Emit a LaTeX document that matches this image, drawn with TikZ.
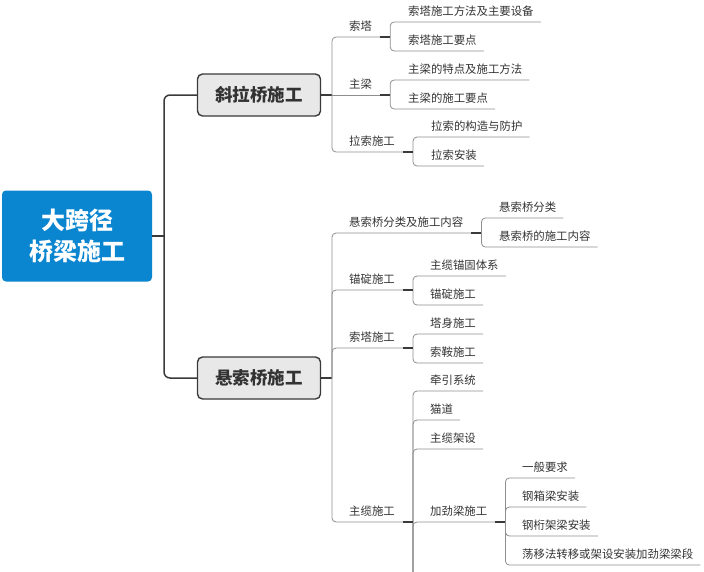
\documentclass[tikz,border=0pt]{standalone}
\usepackage{fontspec}
\newfontfamily\cjk{Noto Sans CJK SC}
\definecolor{rootblue}{HTML}{0A85D0}
\definecolor{boxgray}{HTML}{E8E8E8}
\definecolor{darkline}{HTML}{3A3A3A}
\definecolor{greyline}{HTML}{8E8E8E}
\definecolor{labtext}{HTML}{333333}

\begin{document}
\begin{tikzpicture}[x=1pt, y=-1pt,
  root/.style={fill=rootblue, rounded corners=4pt, text=white, align=center,
               font=\cjk\bfseries\fontsize{24}{31}\selectfont,
               minimum width=150pt, minimum height=91pt, inner sep=0pt},
  topic/.style={draw=darkline, line width=1.4pt, fill=boxgray, rounded corners=5pt,
                font=\cjk\bfseries\fontsize{17.5}{20}\selectfont, text=labtext,
                minimum width=123pt, minimum height=42pt, inner sep=0pt},
  lab/.style={anchor=south west, inner sep=0pt, text depth=6.3pt, text=labtext,
              font=\cjk\fontsize{11.4}{14}\selectfont,
              execute at begin node=\hspace*{17pt}, execute at end node=\hspace*{#1}},
  lab/.default=18pt,
  leaf/.style={lab=7pt},
  trunk/.style={draw=darkline, line width=1.5pt, rounded corners=6pt},
  link/.style={draw=greyline, line width=0.8pt, rounded corners=4pt},
  stub/.style={draw=darkline, line width=1.2pt}
]
\useasboundingbox (0,0) rectangle (704,571);

% root and the two topics
\node[root] (root) at (77,236) {大跨径\\桥梁施工};
\node[topic] (cable) at (259,95) {斜拉桥施工};
\node[topic] (susp) at (259,378) {悬索桥施工};
\coordinate (fork) at (164,236);
\draw[trunk] (root.east) -- (fork);
\draw[trunk] (cable.west) -| (fork);
\draw[trunk] (susp.west) -| (fork);

% cable-stayed bridge
\node[lab] (tower) at (332,37) {索塔};
\node[lab] (girder) at (332,95) {主梁};
\node[lab] (stay) at (332,152) {拉索施工};
\node[leaf] (tower1) at (391,22) {索塔施工方法及主要设备};
\node[leaf] (tower2) at (391,51) {索塔施工要点};
\node[leaf] (girder1) at (391,80) {主梁的特点及施工方法};
\node[leaf] (girder2) at (391,109) {主梁的施工要点};
\node[leaf] (stay1) at (414,137) {拉索的构造与防护};
\node[leaf] (stay2) at (414,166) {拉索安装};
\coordinate (cj) at (332,95);
\draw[trunk] (cable.east) -- (cj);
\draw[link] (cj) |- (tower.south east);
\draw[link] (cj) -- (girder.south east);
\draw[link] (cj) |- (stay.south east);
\foreach \p/\c in {tower/tower1, tower/tower2, girder/girder1, girder/girder2, stay/stay1, stay/stay2}
  \draw[link] (\p.south east) |- (\c.south east);
\foreach \p in {tower, girder, stay}
  \draw[stub] ([xshift=-10pt]\p.south east) -- (\p.south east);

% suspension bridge
\node[lab] (kind) at (332,233) {悬索桥分类及施工内容};
\node[lab] (anchor) at (332,290) {锚碇施工};
\node[lab] (stower) at (332,348) {索塔施工};
\node[lab] (main) at (332,522) {主缆施工};
\node[leaf] (kind1) at (482,218) {悬索桥分类};
\node[leaf] (kind2) at (482,247) {悬索桥的施工内容};
\node[leaf] (anchor1) at (413,276) {主缆锚固体系};
\node[leaf] (anchor2) at (413,305) {锚碇施工};
\node[leaf] (stower1) at (413,334) {塔身施工};
\node[leaf] (stower2) at (413,363) {索鞍施工};
\node[leaf] (main1) at (413,391) {牵引系统};
\node[leaf] (main2) at (413,420) {猫道};
\node[leaf] (main3) at (413,449) {主缆架设};
\node[lab] (deck) at (413,522) {加劲梁施工};
\node[leaf] (deck1) at (505,478) {一般要求};
\node[leaf] (deck2) at (505,507) {钢箱梁安装};
\node[leaf] (deck3) at (505,536) {钢桁架梁安装};
\node[leaf] (deck4) at (505,565) {荡移法转移或架设安装加劲梁梁段};
\coordinate (sj) at (332,378);
\coordinate (cut) at (413,590);
\draw[trunk] (susp.east) -- (sj);
\foreach \c in {kind, anchor, stower, main}
  \draw[link] (sj) |- (\c.south east);
\foreach \p/\c in {kind/kind1, kind/kind2, anchor/anchor1, anchor/anchor2, stower/stower1, stower/stower2}
  \draw[link] (\p.south east) |- (\c.south east);
\foreach \c in {main1, main2, main3, deck}
  \draw[link] (cut) |- (\c.south east);
\foreach \c in {deck1, deck2, deck3, deck4}
  \draw[link] (deck.south east) |- (\c.south east);
\foreach \p in {kind, anchor, stower, main, deck}
  \draw[stub] ([xshift=-10pt]\p.south east) -- (\p.south east);
\end{tikzpicture}
\end{document}
